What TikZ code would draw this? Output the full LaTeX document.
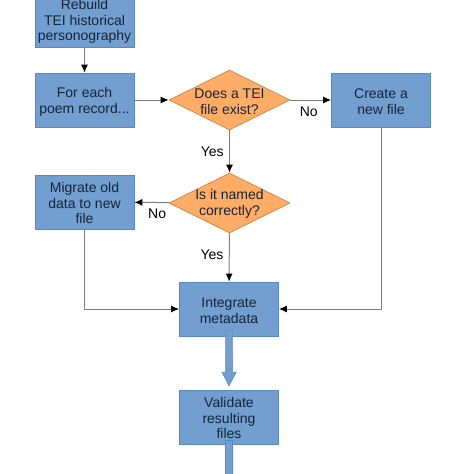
\documentclass[tikz,border=0pt]{standalone}
\usepackage{fontspec}
\setmainfont{Liberation Sans}
\usetikzlibrary{arrows.meta,shapes.geometric}
\definecolor{boxfill}{HTML}{729FCF}
\definecolor{boxline}{HTML}{5A87BE}
\definecolor{dfill}{HTML}{FFAD66}
\definecolor{dline}{HTML}{C98A52}
\definecolor{txt}{HTML}{16243A}
\definecolor{conn}{HTML}{7F7F7F}
\tikzset{
  procbox/.style={rectangle,draw=boxline,fill=boxfill,line width=0.8pt,
    minimum width=99pt,minimum height=54pt,inner sep=0pt,align=center,
    text=txt,font=\fontsize{14pt}{15.8pt}\selectfont},
  decision/.style={diamond,draw=dline,fill=dfill,line width=0.8pt,
    minimum width=121pt,minimum height=60pt,inner sep=0pt},
  dtext/.style={align=center,text=txt,font=\fontsize{14pt}{15.8pt}\selectfont},
  conn/.style={draw=conn,line width=1pt,-{Latex[length=8pt,width=7pt,color=black]}},
  lbl/.style={text=black,font=\fontsize{14pt}{15.8pt}\selectfont},
  fatarrow/.style={fill=boxfill,draw=boxline,line width=0.5pt}
}
\begin{document}
\begin{tikzpicture}[x=1pt,y=-1pt]
\useasboundingbox (0,0) rectangle (474,474);
\node[procbox] (rebuild) at (84.5,20) {};
\node[dtext] (rebuildt) at (84.5,21.5) {Rebuild\\TEI historical\\personography};
\node[procbox] (foreach) at (84.5,100) {};
\node[dtext] (foreacht) at (84.5,101.5) {For each\\poem record...};
\node[decision] (exist) at (229.5,100) {};
\node[dtext] (existt) at (229.5,101.5) {Does a TEI\\file exist?};
\node[procbox] (create) at (381,100) {};
\node[dtext] (createt) at (381,101.5) {Create a\\new file};
\node[decision] (named) at (229.5,203) {};
\node[dtext] (namedt) at (229.5,204) {Is it named\\correctly?};
\node[procbox] (migrate) at (84.5,202) {};
\node[dtext] (migratet) at (84.5,203) {Migrate old\\data to new\\file};
\node[procbox] (integrate) at (229,309) {};
\node[dtext] (integratet) at (229,310.5) {Integrate\\metadata};
\node[procbox] (validate) at (229,417) {};
\node[dtext] (validatet) at (229,418) {Validate\\resulting\\files};

\draw[conn] (rebuild) -- (foreach);
\draw[conn] (foreach) -- (exist);
\draw[conn] (exist) -- node[lbl,below=3pt,pos=0.45] {No} (create);
\draw[conn] (exist) -- node[lbl,left=2pt] {Yes} (named);
\draw[conn] (named) -- node[lbl,below=3pt,pos=0.35] {No} (migrate);
\draw[conn] (named) -- node[lbl,left=2pt,pos=0.45] {Yes} (integrate);
\draw[conn] (migrate.south) |- (integrate.west);
\draw[conn] (create.south) |- (integrate.east);

\coordinate (f1) at (229,330);
\coordinate (f2) at (229,440);
\fill[fatarrow] ([xshift=-3.3pt]f1) -- ++(0,42) -- ++(-3.7,0) -- (229,386)
  -- (236.3,372) -- ++(-3.7,0) -- ([xshift=3.3pt]f1) -- cycle;
\fill[fatarrow] ([xshift=-3.3pt]f2) -- ++(0,40) -- ++(6.6,0) -- ([xshift=3.3pt]f2) -- cycle;
\end{tikzpicture}
\end{document}
